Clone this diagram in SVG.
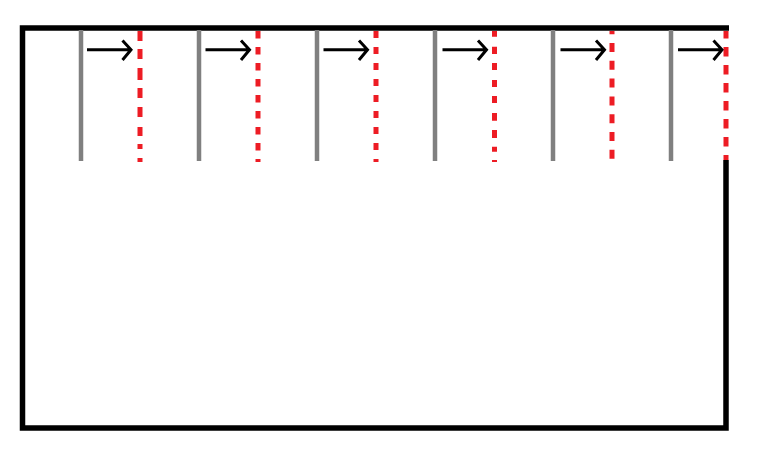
<svg xmlns="http://www.w3.org/2000/svg" width="768" height="462" viewBox="0 0 768 462">
<style>
.frame{fill:none;stroke:#000;stroke-width:5.5;stroke-linejoin:miter}
.wall{stroke:#808080;stroke-width:4.5}
.cut{stroke:#ED1C24;stroke-width:5;fill:none}
.arr{stroke:#000;stroke-width:3;fill:none;stroke-linejoin:miter}
</style>
<rect width="768" height="462" fill="#fff"/>
<g id="frame">
<path class="frame" d="M726,160 V428 H22.5 V28 H729"/>
</g>
<g id="walls">
<line class="wall" x1="81" y1="30" x2="81" y2="161"/>
<line class="wall" x1="199" y1="30" x2="199" y2="161"/>
<line class="wall" x1="317" y1="30" x2="317" y2="161"/>
<line class="wall" x1="435" y1="30" x2="435" y2="161"/>
<line class="wall" x1="553" y1="30" x2="553" y2="161"/>
<line class="wall" x1="671" y1="30" x2="671" y2="161"/>
</g>
<g id="cuts">
<line class="cut" x1="140" y1="31" x2="140" y2="162" stroke-dasharray="10 8 10 9 12 8 10 9 10 10 9 8 5 9 4 10"/>
<line class="cut" x1="258" y1="31" x2="258" y2="162" stroke-dasharray="7.5 8.5"/>
<line class="cut" x1="376" y1="31" x2="376" y2="162" stroke-dasharray="7 9"/>
<line class="cut" x1="494.5" y1="31" x2="494.5" y2="162" stroke-dasharray="5.7 10 7.3 9 7 10 7 9 7 10 7.7 9.3 8 8.7 5 8.3 2 10"/>
<line class="cut" x1="612" y1="31" x2="612" y2="162" stroke-dasharray="9 8.8" stroke-dashoffset="5.8"/>
<line class="cut" x1="726" y1="31" x2="726" y2="160" stroke-dasharray="9.5 8.5" stroke-dashoffset="2"/>
</g>
<g id="connectors">
<path class="arr" d="M87,49.8 H131 M122.5,40.5 L131,49.8 L122.5,60"/>
<path class="arr" d="M205.5,49.8 H249.5 M241,40.5 L249.5,49.8 L241,60"/>
<path class="arr" d="M323.5,49.8 H367.5 M359,40.5 L367.5,49.8 L359,60"/>
<path class="arr" d="M442.5,49.8 H486.5 M478,40.5 L486.5,49.8 L478,60"/>
<path class="arr" d="M560.5,49.8 H604.5 M596,40.5 L604.5,49.8 L596,60"/>
<path class="arr" d="M678,49.8 H722 M713.5,40.5 L722,49.8 L713.5,60"/>
</g>
</svg>
